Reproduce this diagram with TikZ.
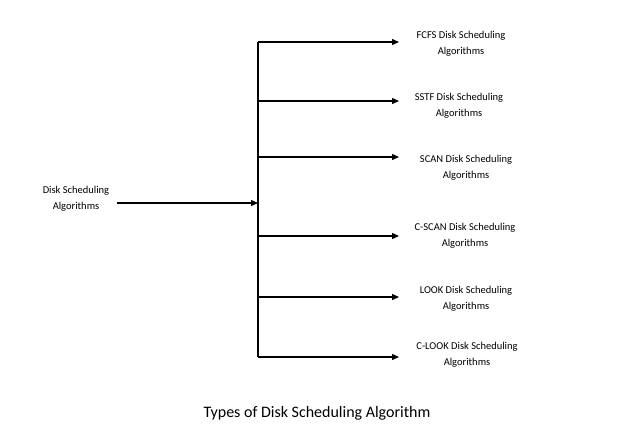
\documentclass[tikz,border=0pt]{standalone}
\usepackage{fontspec}
\setmainfont{Carlito}
\usetikzlibrary{arrows.meta}
\newcommand{\algnode}[3]{\node[algtext] at (#1) (#2) {#3}}

\begin{document}
\begin{tikzpicture}[x=1pt,y=-1pt,
    algtext/.style={align=center,inner sep=0pt,font=\fontsize{10.5}{16}\selectfont},
    link/.style={line width=1.3pt,-{Triangle[length=7pt,width=6pt]}}]
    \useasboundingbox (0,0) rectangle (640,445);

    \algnode{76,199}{disk}{Disk Scheduling\\Algorithms};

    \algnode{461,44}{fcfs}{FCFS Disk Scheduling\\Algorithms};
    \algnode{459,106}{sstf}{SSTF Disk Scheduling\\Algorithms};
    \algnode{466,168}{scan}{SCAN Disk Scheduling\\Algorithms};
    \algnode{465,236}{cscan}{C-SCAN Disk Scheduling\\Algorithms};
    \algnode{466,299}{look}{LOOK Disk Scheduling\\Algorithms};
    \algnode{467,355}{clook}{C-LOOK Disk Scheduling\\Algorithms};

    \node[font=\fontsize{16}{18}\selectfont] at (317,413) (caption) {Types of Disk Scheduling Algorithm};

    % bus and arrow ends
    \coordinate (in) at (117,203);
    \coordinate (hub) at (258,203);
    \coordinate (b1) at (258,42);  \coordinate (e1) at (399,42);
    \coordinate (b2) at (258,101); \coordinate (e2) at (399,101);
    \coordinate (b3) at (258,157); \coordinate (e3) at (399,157);
    \coordinate (b4) at (258,236); \coordinate (e4) at (399,236);
    \coordinate (b5) at (258,297); \coordinate (e5) at (399,297);
    \coordinate (b6) at (258,357); \coordinate (e6) at (399,357);

    \draw[line width=1.3pt] (b1) -- (b6);
    \draw[link] (in) -- (hub);
    \foreach \i in {1,...,6}
        \draw[link] (b\i) -- (e\i);
\end{tikzpicture}
\end{document}
